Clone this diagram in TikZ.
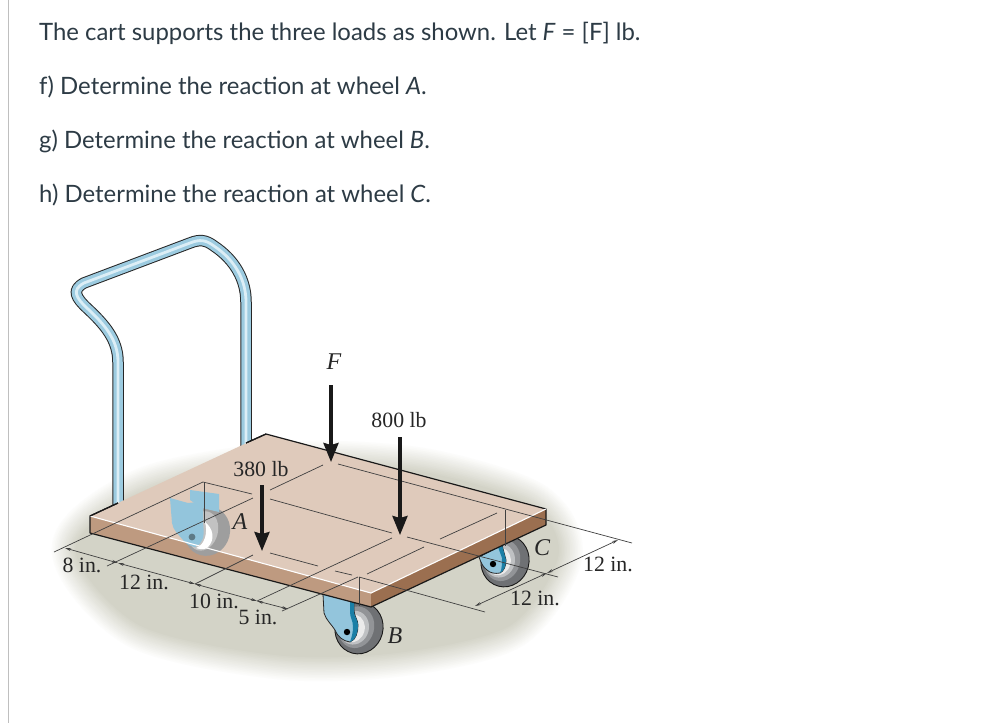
\documentclass[tikz,border=0pt]{standalone}
\usepackage{fontspec}
\setmainfont{Lato}
\newfontfamily\figfont{Liberation Serif}
\usetikzlibrary{arrows.meta,positioning}
\definecolor{textc}{HTML}{2D3B45}
\definecolor{shadowc}{HTML}{D3D3C7}
\definecolor{tubec}{HTML}{9CCBE0}
\definecolor{tubelight}{HTML}{DCEEF6}
\definecolor{decktop}{HTML}{DFCABB}
\definecolor{deckfront}{HTML}{BE9A80}
\definecolor{deckside}{HTML}{9B6F50}
\definecolor{bracketc}{HTML}{93C5DC}
\definecolor{stripc}{HTML}{1B7FA6}
\definecolor{tyredark}{HTML}{6F7174}
\definecolor{tyreband}{HTML}{929497}
\definecolor{rimc}{HTML}{BFC1C3}
\tikzset{
  question/.style={anchor=base west,text=textc,font=\fontsize{23.9}{24}\selectfont,inner sep=0pt},
  dimlabel/.style={font=\figfont\fontsize{21.8}{22}\selectfont,text=black!85,inner sep=0pt},
  wheellabel/.style={font=\figfont\itshape\fontsize{24}{24}\selectfont,text=black!85,inner sep=0pt},
  thinline/.style={black!75,line width=0.7pt},
  dimline/.style={black!75,line width=0.7pt,{Stealth[length=6pt,width=3pt]}-{Stealth[length=6pt,width=3pt]}},
  loadarrow/.style={black!90,line width=3.3pt,-{Stealth[length=19pt,width=15pt,inset=2pt]}}
}
\newcommand{\handlepath}{(118,505) -- (118,362) .. controls (118,340) and (105,325) .. (88,309) .. controls (76,298) and (71,290) .. (84,283) -- (190,243) .. controls (200,239) and (206,240) .. (214,246) .. controls (235,260) and (246,280) .. (246,302) -- (246,450)}
\begin{document}
\begin{tikzpicture}[x=1pt,y=-1pt]
  \useasboundingbox (0,0) rectangle (1006,723);
  \fill[white] (0,0) rectangle (1006,723);
  \draw[black!25,line width=1pt] (8,0) -- (8,723);

  \node[question] (qtitle) at (39,40) {The cart supports the three loads as shown. Let \textit{F} = [F] lb.};
  \node[question] (qf) at (39,94) {f) Determine the reaction at wheel \textit{A}.};
  \node[question] (qg) at (39,148) {g) Determine the reaction at wheel \textit{B}.};
  \node[question] (qh) at (39,202) {h) Determine the reaction at wheel \textit{C}.};

  % shadow on the floor
  \foreach \i in {0,...,16} {
    \pgfmathsetmacro{\shade}{100*(\i/16)}
    \pgfmathsetmacro{\wid}{52-3.2*\i}
    \draw[draw=shadowc!\shade!white,fill=shadowc!\shade!white,line width=\wid pt,line join=round]
      plot[smooth cycle] coordinates {(76,548) (150,490) (290,466) (420,472) (530,505) (558,555) (510,625) (400,652) (280,655) (140,625)};
  }

  % handle
  \draw[black!85,line width=11.5pt,line join=round] \handlepath;
  \draw[tubec,line width=9.5pt,line join=round] \handlepath;
  \draw[tubelight,line width=2.8pt,line join=round] \handlepath;

  % wheels B and C
  \foreach \cx/\cy in {359/628,505/561} {
    \draw[black!90,fill=tyredark,line width=0.9pt,rotate around={-15:(\cx,\cy)}] (\cx,\cy) ellipse [x radius=24,y radius=26];
    \fill[tyreband,rotate around={-15:(\cx,\cy)}] (\cx-3,\cy) ellipse [x radius=18,y radius=21];
    \fill[rimc,rotate around={-15:(\cx,\cy)}] (\cx-5,\cy+1) ellipse [x radius=15,y radius=17];
    \fill[black!8,rotate around={-15:(\cx,\cy)}] (\cx-6,\cy+2) ellipse [x radius=12,y radius=14];
  }
  % bracket B
  \draw[black!85,fill=bracketc,line width=0.8pt] (323,594) -- (324,613) .. controls (326,620) and (332,625) .. (335,630) .. controls (338,637) and (343,641) .. (350,642) .. controls (356,640) and (358,632) .. (358,625) .. controls (358,620) and (354,616) .. (354,610) -- (354,598) -- cycle;
  \fill[stripc] (350,598) -- (354,598) -- (354,612) .. controls (354,616) and (358,620) .. (358,625) .. controls (358,632) and (356,640) .. (350,642) .. controls (352,636) and (353,632) .. (353,627) .. controls (353,620) and (350,618) .. (350,612) -- cycle;
  \fill[black] (347,632) circle (3.2);
  % bracket C
  \draw[black!85,fill=bracketc,line width=0.8pt] (479,557) .. controls (481,563) and (483,567) .. (487,570) .. controls (490,573) and (495,574) .. (500,573) .. controls (504,571) and (506,566) .. (506,560) -- (502,545) -- cycle;
  \fill[stripc] (498,547) -- (502,545) -- (506,560) .. controls (506,566) and (504,571) .. (500,573) .. controls (502,570) and (502,562) .. (502,558) -- cycle;
  \fill[black] (493,564) circle (3.2);

  % platform
  \fill[decktop] (266,434) -- (546,509) -- (371,593) -- (90,516) -- cycle;
  \fill[deckfront] (90,516) -- (371,593) -- (371,607) -- (90,533) -- cycle;
  \fill[deckside] (371,593) -- (546,509) -- (546,525) -- (371,607) -- cycle;

  % wheel A seen through the deck
  \fill[black!38,rotate around={-15:(207,531)}] (207,531) ellipse [x radius=23,y radius=25];
  \fill[black!24,rotate around={-15:(207,531)}] (203,532) ellipse [x radius=15,y radius=20];
  \fill[white] (205,522) .. controls (213,528) and (216,540) .. (207,548) .. controls (203,550) and (199,549) .. (196,548) .. controls (205,545) and (208,532) .. (205,522) -- cycle;
  \fill[bracketc] (190,490) -- (219,494) -- (219,512) -- (202,508) -- (190,500) -- cycle;
  \fill[bracketc] (170,498) -- (188,503) -- (197,502) .. controls (201,503) and (203,505) .. (203,508) -- (203,523) .. controls (204,532) and (204,537) .. (202,540) .. controls (200,544) and (198,546) .. (195,547) .. controls (190,546) and (186,544) .. (183,540) .. controls (178,534) and (173,530) .. (172,523) -- cycle;
  \fill[black!40!tubec] (192,537) circle (3.4);

  \draw[black!90,line width=1.2pt,line join=round] (246,443) -- (266,434) -- (546,509) -- (546,525) -- (371,607) -- (90,533) -- (90,516) -- (118,503);
  \draw[white,line width=1.1pt] (90,516) -- (371,593) -- (546,509);
  \draw[black!90,line width=1.2pt] (90,516) -- (118,503) (246,443) -- (266,434);

  % lines on the deck and the dimensions
  \draw[thinline] (54,552) -- (203,482) -- (252,494);
  \draw[thinline] (107,566) -- (253,498);
  \draw[thinline] (270,490) -- (323,465);
  \draw[thinline] (195,584) -- (253,555);
  \draw[thinline] (257,601) -- (392,538);
  \draw[thinline] (440,539) -- (497,513);
  \draw[thinline] (282,611) -- (358,577);
  \draw[thinline] (367,574) -- (424,547);
  \draw[thinline] (338,464) -- (632,543);
  \draw[thinline] (270,499) -- (392,533);
  \draw[thinline] (407,537) -- (558,577);
  \draw[thinline] (270,553) -- (318,566);
  \draw[thinline] (335,571) -- (352,575);
  \draw[thinline] (359,577) -- (485,612);
  \draw[thinline] (359,577) -- (359,606);
  \draw[thinline] (505,510) -- (505,546);
  \draw[thinline] (204,482) -- (204,523);

  \coordinate (d0) at (65,548);
  \coordinate (d1) at (118,563);
  \coordinate (d2) at (195,584);
  \coordinate (d3) at (257,601);
  \coordinate (d4) at (288,609);
  \coordinate (e0) at (475,606);
  \coordinate (e1) at (547,573);
  \coordinate (e2) at (618,540);
  \draw[dimline] (d0) -- (d1);
  \draw[dimline] (d1) -- (d2);
  \draw[dimline] (d2) -- (d3);
  \draw[dimline] (d3) -- (d4);
  \draw[dimline] (e0) -- (e1);
  \draw[dimline] (e1) -- (e2);

  % loads
  \coordinate (loadFtop) at (331,385);
  \coordinate (loadFtip) at (331,462);
  \coordinate (loadEtop) at (400,437);
  \coordinate (loadEtip) at (400,535);
  \coordinate (loadTtop) at (262,485);
  \coordinate (loadTtip) at (262,551);
  \draw[loadarrow] (loadFtop) -- (loadFtip);
  \draw[loadarrow] (loadEtop) -- (loadEtip);
  \draw[loadarrow] (loadTtop) -- (loadTtip);

  \node[wheellabel] (labF) at (334,362) {F};
  \node[dimlabel] (lab800) at (399,420) {800 lb};
  \node[dimlabel] (lab380) at (261,469) {380 lb};
  \node[wheellabel] (labA) at (240,522) {A};
  \node[wheellabel] (labB) at (395,636) {B};
  \node[wheellabel] (labC) at (542,548) {C};
  \node[dimlabel] (dim8) at (82,565) {8 in.};
  \node[dimlabel] (dim12a) at (144,582) {12 in.};
  \node[dimlabel] (dim10) at (214,601) {10 in.};
  \node[dimlabel] (dim5) at (258,617) {5 in.};
  \node[dimlabel] (dim12b) at (535,598) {12 in.};
  \node[dimlabel] (dim12c) at (608,564) {12 in.};
\end{tikzpicture}
\end{document}
